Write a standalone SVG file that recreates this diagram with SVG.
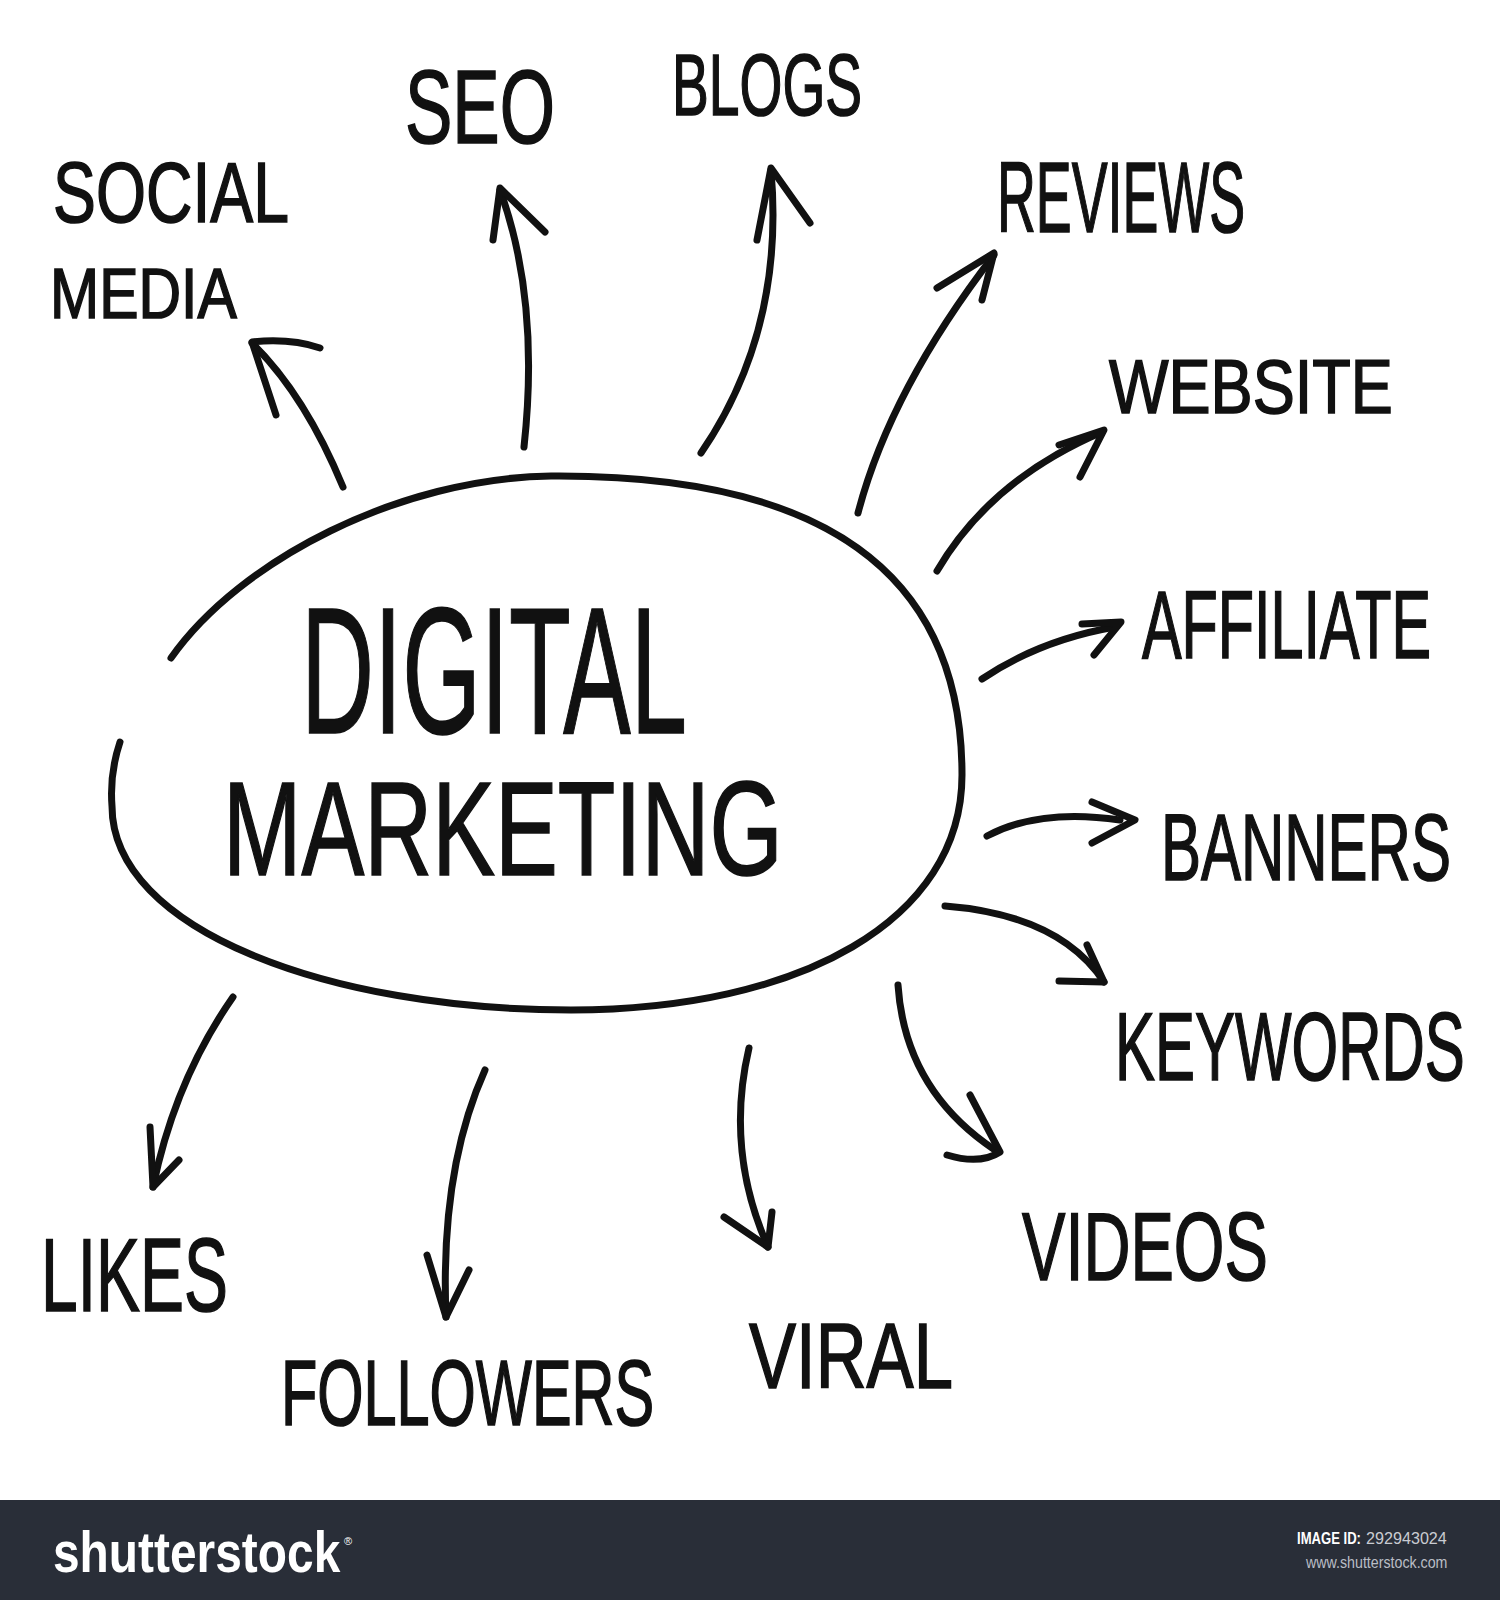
<svg xmlns="http://www.w3.org/2000/svg" width="1500" height="1600" viewBox="0 0 1500 1600">
  <style>
    .lbl { font-family: "Liberation Sans", Arial, sans-serif; fill: #111; stroke: #111; stroke-width: 1.6; }
    .ln { fill: none; stroke: #111; stroke-width: 7; stroke-linecap: round; stroke-linejoin: round; }
    .hd { fill: none; stroke: #111; stroke-width: 7; stroke-linecap: round; stroke-linejoin: round; }
    .ft { font-family: "Liberation Sans", Arial, sans-serif; }
  </style>
  <rect x="0" y="0" width="1500" height="1600" fill="#ffffff"/>

  <g id="center">
    <path class="ln" d="M171,658 C240,560 400,478 551,476 C820,474 962,570 962,775 C962,920 800,1010 571,1010 C330,1010 112,930 112,806 C110,780 114,760 120,742"/>
    <text class="lbl" transform="translate(301,733) scale(0.562,1)" font-size="180">DIGITAL</text>
    <text class="lbl" transform="translate(223,875) scale(0.708,1)" font-size="133">MARKETING</text>
  </g>

  <g id="connectors">
    <path class="ln" d="M343,487 Q305,395 252,343"/>
    <path class="hd" d="M276,415 L252,342 Q290,338 320,348"/>

    <path class="ln" d="M524,447 Q540,300 500,190"/>
    <path class="hd" d="M493,240 L500,188 L545,232"/>

    <path class="ln" d="M701,453 Q785,330 771,170"/>
    <path class="hd" d="M757,240 L771,168 L810,223"/>

    <path class="ln" d="M858,513 Q890,390 994,255"/>
    <path class="hd" d="M937,288 L994,253 L982,300"/>

    <path class="ln" d="M937,571 Q990,480 1102,432"/>
    <path class="hd" d="M1059,445 L1104,430 L1080,477"/>

    <path class="ln" d="M982,679 Q1040,640 1115,627"/>
    <path class="hd" d="M1082,624 L1121,622 L1094,655"/>

    <path class="ln" d="M987,836 Q1040,808 1120,820"/>
    <path class="hd" d="M1092,802 L1135,820 L1092,843"/>

    <path class="ln" d="M945,906 Q1060,915 1104,982"/>
    <path class="hd" d="M1087,945 L1104,982 L1059,981"/>

    <path class="ln" d="M898,985 Q905,1090 995,1150"/>
    <path class="hd" d="M970,1095 L1000,1152 Q980,1165 947,1155"/>

    <path class="ln" d="M749,1048 Q725,1150 768,1247"/>
    <path class="hd" d="M724,1217 L768,1247 L772,1212"/>

    <path class="ln" d="M485,1070 Q440,1170 446,1317"/>
    <path class="hd" d="M427,1255 L446,1317 L469,1270"/>

    <path class="ln" d="M233,997 Q175,1080 153,1187"/>
    <path class="hd" d="M150,1127 L153,1187 L179,1160"/>
  </g>

  <g id="social-media">
    <text class="lbl" transform="translate(53,222) scale(0.748,1)" font-size="86">SOCIAL</text>
    <text class="lbl" transform="translate(50,318) scale(0.843,1)" font-size="70">MEDIA</text>
  </g>
  <g id="seo"><text class="lbl" transform="translate(405,143) scale(0.683,1)" font-size="104">SEO</text></g>
  <g id="blogs"><text class="lbl" transform="translate(672,115) scale(0.627,1)" font-size="88">BLOGS</text></g>
  <g id="reviews"><text class="lbl" transform="translate(997,232) scale(0.538,1)" font-size="100">REVIEWS</text></g>
  <g id="website"><text class="lbl" transform="translate(1109,413) scale(0.830,1)" font-size="76">WEBSITE</text></g>
  <g id="affiliate"><text class="lbl" transform="translate(1142,658) scale(0.612,1)" font-size="97">AFFILIATE</text></g>
  <g id="banners"><text class="lbl" transform="translate(1161,880) scale(0.638,1)" font-size="94">BANNERS</text></g>
  <g id="keywords"><text class="lbl" transform="translate(1115,1080) scale(0.618,1)" font-size="97">KEYWORDS</text></g>
  <g id="videos"><text class="lbl" transform="translate(1022,1280) scale(0.671,1)" font-size="97">VIDEOS</text></g>
  <g id="viral"><text class="lbl" transform="translate(749,1388) scale(0.767,1)" font-size="92">VIRAL</text></g>
  <g id="followers"><text class="lbl" transform="translate(281,1425) scale(0.646,1)" font-size="92">FOLLOWERS</text></g>
  <g id="likes"><text class="lbl" transform="translate(41,1311) scale(0.634,1)" font-size="104">LIKES</text></g>

  <g id="footer">
    <rect x="0" y="1500" width="1500" height="100" fill="#292e38"/>
    <text class="ft" transform="translate(53,1572) scale(0.84,1)" font-weight="bold" font-size="57" fill="#ffffff">shutterstock</text>
    <text class="ft" x="344" y="1545" font-size="11" fill="#ffffff">®</text>
    <text class="ft" transform="translate(1297,1544) scale(0.77,1)" font-weight="bold" font-size="17" fill="#ffffff">IMAGE ID:</text>
    <text class="ft" transform="translate(1366,1544) scale(0.95,1)" font-size="17" fill="#c9ccd2">292943024</text>
    <text class="ft" transform="translate(1306,1568) scale(0.89,1)" font-size="16" fill="#b9bdc5">www.shutterstock.com</text>
  </g>
</svg>
